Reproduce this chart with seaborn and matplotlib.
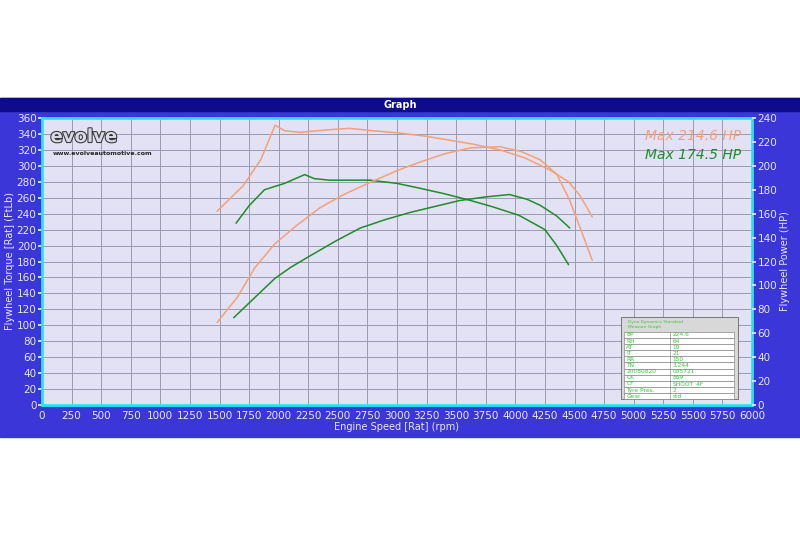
import numpy as np
import pandas as pd
import seaborn as sns
import matplotlib.pyplot as plt
import matplotlib.patheffects as pe
from matplotlib.patches import Rectangle

# values
rpm_tq_mod = [1480, 1700, 1850, 1970, 2050, 2180, 2400, 2600, 2800, 3030, 3250, 3450, 3650, 3870, 4080, 4290, 4450, 4545, 4650]
tq_mod = [243, 275, 308, 351, 344, 342, 345, 347, 344, 341, 337, 332, 327, 320, 310, 295, 280, 263, 236]
rpm_hp_mod = [1480, 1650, 1800, 1970, 2150, 2350, 2550, 2770, 3000, 3190, 3400, 3620, 3870, 4050, 4210, 4350, 4460, 4560, 4650]
hp_mod = [69, 90, 115, 135, 150, 165, 176, 186, 196, 203, 210, 215, 216, 212, 205, 193, 171, 145, 121]
rpm_tq_std = [1640, 1750, 1880, 2050, 2220, 2300, 2430, 2600, 2770, 3000, 3190, 3400, 3610, 3800, 4030, 4250, 4350, 4450]
tq_std = [228, 250, 270, 278, 289, 284, 282, 282, 282, 278, 272, 265, 257, 249, 238, 220, 200, 176]
rpm_hp_std = [1620, 1800, 1970, 2100, 2270, 2480, 2690, 2900, 3110, 3320, 3530, 3750, 3950, 4100, 4210, 4350, 4460]
hp_std = [73, 90, 106, 115, 125, 137, 148, 155, 161, 166, 171, 174, 176, 172, 167, 158, 148]

x_ticks = list(range(0, 6001, 250))
left_ticks = list(range(0, 361, 20))
right_ticks = list(range(0, 241, 20))
table_rows = [("BP", "224.6"), ("RH", "64"), ("AT", "19"), ("IT", "21"), ("RR", "150"),
              ("TN", "3.244"), ("20080820", "085721"), ("CK", "889"), ("CF", "SHOOT_4F"),
              ("Tyre Pres.", "2"), ("Gear", "std")]

orange = "#f4a07a"
green = "#1e8c2a"
frame_blue = "#3a36d8"
tick_col = "#e8e8ff"

sns.set_theme(style="whitegrid")
plt.rcParams['font.family'] = ['DejaVu Sans']

fig = plt.figure(figsize=(8, 5.33), dpi=100)
fig.patch.set_facecolor("white")
fig.patches.append(Rectangle((0, 1 - 437 / 533), 1, (437 - 98) / 533, transform=fig.transFigure,
                             color=frame_blue, zorder=-2))
fig.patches.append(Rectangle((0, 1 - 111 / 533), 1, 13 / 533, transform=fig.transFigure,
                             color="#0c0c8c", zorder=-1))
fig.text(0.5, 1 - 105 / 533, "Graph", color="white", fontsize=7, ha="center", va="center", weight="bold")

ax = fig.add_axes([42 / 800, 1 - 405 / 533, 710 / 800, 287 / 533])
ax.set_facecolor("#e2e2f4")
df_tm = pd.DataFrame({"rpm": rpm_tq_mod, "v": tq_mod})
df_ts = pd.DataFrame({"rpm": rpm_tq_std, "v": tq_std})
sns.lineplot(data=df_tm, x="rpm", y="v", ax=ax, color=orange, lw=1.1)
sns.lineplot(data=df_ts, x="rpm", y="v", ax=ax, color=green, lw=1.1)
ax.set_xlim(0, 6000)
ax.set_ylim(0, 360)
ax.set_xticks(x_ticks)
ax.set_yticks(left_ticks)
ax.grid(color="#9a9ab0", lw=0.7)
for s in ax.spines.values():
    s.set_color("#30e0f0")
    s.set_linewidth(2)
ax.tick_params(colors=tick_col, labelsize=7.5, length=3, pad=1)
ax.set_xlabel("Engine Speed [Rat] (rpm)", color=tick_col, fontsize=7, labelpad=1)
ax.set_ylabel("Flywheel Torque [Rat] (FtLb)", color=tick_col, fontsize=7, labelpad=1)

ax2 = ax.twinx()
df_hm = pd.DataFrame({"rpm": rpm_hp_mod, "v": hp_mod})
df_hs = pd.DataFrame({"rpm": rpm_hp_std, "v": hp_std})
sns.lineplot(data=df_hm, x="rpm", y="v", ax=ax2, color=orange, lw=1.1)
sns.lineplot(data=df_hs, x="rpm", y="v", ax=ax2, color=green, lw=1.1)
ax2.set_ylim(0, 240)
ax2.set_yticks(right_ticks)
ax2.grid(False)
for s in ax2.spines.values():
    s.set_visible(False)
ax2.tick_params(colors=tick_col, labelsize=7.5, length=3, pad=1)
ax2.set_ylabel("Flywheel Power (HP)", color=tick_col, fontsize=7, labelpad=2)
ax2.set_xlabel("")

logo = ax.text(0.012, 0.965, "evolve", transform=ax.transAxes, fontsize=13, color="#d8d8e8",
               weight="bold", va="top")
logo.set_path_effects([pe.withStroke(linewidth=1.5, foreground="#333333")])
ax.text(0.015, 0.885, "www.evolveautomotive.com", transform=ax.transAxes, fontsize=4.5,
        color="#222222", weight="bold", va="top")

ax.text(0.985, 0.96, "Max 214.6 HP", transform=ax.transAxes, color=orange, fontsize=10,
        style="italic", ha="right", va="top")
ax.text(0.985, 0.895, "Max 174.5 HP", transform=ax.transAxes, color=green, fontsize=10,
        style="italic", ha="right", va="top")

# info table
tx0, ty0, tw, th = 0.815, 0.02, 0.165, 0.285
ax.add_patch(Rectangle((tx0, ty0), tw, th, transform=ax.transAxes, facecolor="#d8d8d8",
                       edgecolor="#666666", lw=0.6, zorder=5))
ax.text(tx0 + 0.01, ty0 + th - 0.01, "Dyno Dynamics Standard\nMeasure Graph", transform=ax.transAxes,
        fontsize=3.2, color="#33cc33", va="top", zorder=6)
rh = (th - 0.05) / len(table_rows)
for i, (k, v) in enumerate(table_rows):
    yy = ty0 + th - 0.05 - (i + 1) * rh
    ax.add_patch(Rectangle((tx0 + 0.005, yy), tw - 0.01, rh, transform=ax.transAxes,
                           facecolor="white", edgecolor="#777777", lw=0.4, zorder=6))
    ax.plot([tx0 + 0.07, tx0 + 0.07], [yy, yy + rh], transform=ax.transAxes, color="#777777", lw=0.4, zorder=7)
    ax.text(tx0 + 0.008, yy + rh / 2, k, transform=ax.transAxes, fontsize=4.2, color="#33cc33",
            va="center", zorder=7)
    ax.text(tx0 + 0.073, yy + rh / 2, v, transform=ax.transAxes, fontsize=4.2, color="#33cc33",
            va="center", zorder=7)

fig.savefig("out.png", dpi=100)
